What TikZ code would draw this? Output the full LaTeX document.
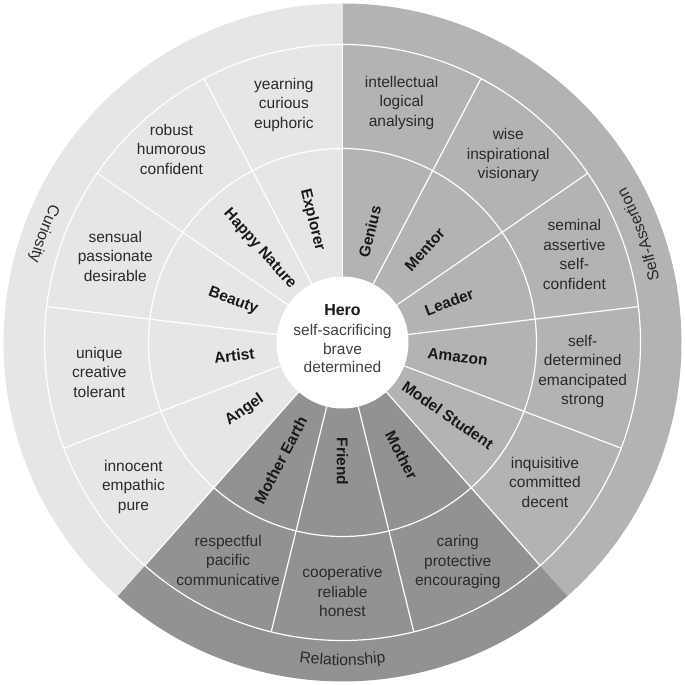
\documentclass[tikz,border=0pt]{standalone}
\usepackage{fontspec}
\setmainfont{Liberation Sans}
\usetikzlibrary{decorations.text}
\definecolor{curiosity}{HTML}{E6E6E6}
\definecolor{assertion}{HTML}{B3B3B3}
\definecolor{relation}{HTML}{929292}
\definecolor{ink}{HTML}{2A2A2A}
\newcommand\catfont{\fontsize{15.8}{18}\selectfont}
\tikzset{
  archetype/.style={font=\fontsize{15.5}{18}\selectfont\bfseries, text=black!90, inner sep=0pt},
  traitbox/.style={font=\fontsize{15.5}{19.5}\selectfont, text=ink, align=center, inner sep=0pt},
  sep/.style={white, line width=1.2pt},
  category/.style={decorate, decoration={text along path, text align=center, text color=ink, text={|\catfont|#1}}},
}
\begin{document}
\begin{tikzpicture}[x=1pt, y=1pt]
  \useasboundingbox (-342.5,-342.5) rectangle (342.5,342.5);
  % the three groups
  \fill[assertion] (0,0) -- (90:339) arc[start angle=90, end angle=-48.46, radius=339] -- cycle;
  \fill[relation] (0,0) -- (-48.46:339) arc[start angle=-48.46, end angle=-131.54, radius=339] -- cycle;
  \fill[curiosity] (0,0) -- (-131.54:339) arc[start angle=-131.54, end angle=-270, radius=339] -- cycle;
  % rings and spokes
  \foreach \r in {194,298} { \draw[sep] (0,0) circle[radius=\r]; }
  \foreach \i in {0,...,12} { \draw[sep] ({90-\i*27.6923}:66) -- ({90-\i*27.6923}:298); }
  \fill[white] (0,0) circle[radius=66];
  \node[align=center, inner sep=0pt, font=\fontsize{15.5}{18.5}\selectfont, text=black!75] (hero) at (0,4)
    {{\fontsize{16}{20}\selectfont\bfseries\color{black!90}Hero}\\[2pt] self-sacrificing\\ brave\\ determined};
  % archetypes
  \foreach \i/\txt/\rad/\ang in {0/Genius/114/76.15, 1/Mentor/124/48.46, 2/Leader/114/20.77,
      3/Amazon/116/-6.92, 4/Model Student/128/-34.62, 5/Mother/127/-62.31, 6/Friend/119/-90,
      7/Mother Earth/133/62.31, 8/Angel/119/34.62, 9/Artist/109/6.92, 10/Beauty/117/-20.77,
      11/Happy Nature/125/-48.46, 12/Explorer/126/-76.15}
    { \node[archetype, rotate=\ang] (n\i) at ({90-(\i+0.5)*27.6923}:\rad) {\txt}; }
  % traits
  \foreach \i/\txt/\rad in {0/intellectual\\logical\\analysing/247, 1/wise\\inspirational\\visionary/250,
      2/seminal\\assertive\\self-\\confident/248, 3/self-\\determined\\emancipated\\strong/242,
      4/inquisitive\\committed\\decent/246, 5/caring\\protective\\encouraging/248,
      6/cooperative\\reliable\\honest/249, 7/respectful\\pacific\\communicative/246,
      8/innocent\\empathic\\pure/254, 9/unique\\creative\\tolerant/245,
      10/sensual\\passionate\\desirable/243, 11/robust\\humorous\\confident/258,
      12/yearning\\curious\\euphoric/245}
    { \node[traitbox] (t\i) at ({90-(\i+0.5)*27.6923}:\rad) {\txt}; }
  % group labels
  \path[category=Self-Assertion] (-10:323) arc[start angle=-10, end angle=50, radius=323];
  \path[category=Relationship] (240:323) arc[start angle=240, end angle=300, radius=323];
  \path[category=Curiosity] (130:323) arc[start angle=130, end angle=190, radius=323];
\end{tikzpicture}
\end{document}
